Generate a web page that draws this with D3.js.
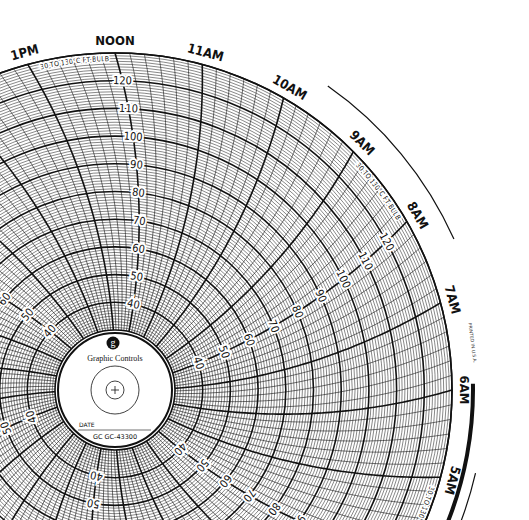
<!DOCTYPE html>
<html><head><meta charset="utf-8">
<script src="https://cdn.jsdelivr.net/npm/d3@7"></script>
<style>body{margin:0;background:#fff}svg{display:block}</style>
</head><body>
<svg id="chart" width="529" height="520"></svg>
<script>
// chart values
const tempRange = [30, 130];
const tempLabels = [40, 50, 60, 70, 80, 90, 100, 110, 120];
const hours = d3.range(0, 24);
const hourLabels = ["MIDNIGHT","1AM","2AM","3AM","4AM","5AM","6AM","7AM","8AM","9AM","10AM","11AM",
                    "NOON","1PM","2PM","3PM","4PM","5PM","6PM","7PM","8PM","9PM","10PM","11PM"];
const labelHours = [12, 8, 4, 0, 20, 16];
const subdivisions = 6;

const svg = d3.select("#chart");
const cx = 115, cy = 390, R = 337, hubR = 57, Ra = 600;
const rScale = d3.scaleLinear().domain(tempRange).range([60, R]);
const angle = h => (12 - h) * 15 * Math.PI / 180; // clockwise from top
const bend = r => Math.acos(r / (2 * Ra)) - Math.acos(R / (2 * Ra));
const pt = (r, a) => [cx + r * Math.sin(a), cy - r * Math.cos(a)];
const deg = a => a * 180 / Math.PI;

const g = svg.append("g");

// temperature circles
d3.range(tempRange[0], tempRange[1] + 1).forEach(t => {
  g.append("circle").attr("cx", cx).attr("cy", cy).attr("r", rScale(t))
    .attr("fill", "none").attr("stroke", "#111")
    .attr("stroke-width", t % 10 === 0 ? 1.6 : 0.5);
});

// time arcs
const line = d3.line();
d3.range(0, 24 * subdivisions).forEach(i => {
  const h = i / subdivisions;
  const pts = d3.range(rScale(tempRange[0]), R + 0.5, 4).concat([R])
    .map(r => pt(r, angle(h) + bend(r)));
  g.append("path").attr("d", line(pts)).attr("fill", "none").attr("stroke", "#111")
    .attr("stroke-width", i % subdivisions === 0 ? 1.6 : 0.6);
});

// temperature numbers along some hour lines
labelHours.forEach(h => {
  tempLabels.forEach(t => {
    const r = rScale(t), a = angle(h) + bend(r);
    const [x, y] = pt(r, a);
    g.append("text").attr("transform", `translate(${x},${y}) rotate(${deg(a)})`)
      .attr("text-anchor", "middle").attr("dominant-baseline", "central")
      .attr("font-family", "DejaVu Sans Condensed, sans-serif").attr("font-size", 11)
      .attr("stroke", "#fff").attr("stroke-width", 4).attr("paint-order", "stroke")
      .attr("fill", "#111").text(t);
  });
  // range title along outer edge
  const a0 = angle(h) - 15 * Math.PI / 180, a1 = angle(h) - 0.5 * Math.PI / 180;
  const rt = R - 8;
  const [x0, y0] = pt(rt, a0), [x1, y1] = pt(rt, a1);
  svg.append("path").attr("id", "tp" + h).attr("fill", "none")
    .attr("d", `M${x0},${y0} A${rt},${rt} 0 0 1 ${x1},${y1}`);
  g.append("text").attr("font-family", "DejaVu Sans Condensed, sans-serif").attr("font-size", 7)
    .attr("fill", "#111").attr("stroke", "#fff").attr("stroke-width", 3).attr("paint-order", "stroke")
    .append("textPath").attr("href", "#tp" + h).attr("startOffset", "55%").attr("text-anchor", "middle")
    .text("30 TO 130°C PT BULB");
});

// outer edge
svg.append("circle").attr("cx", cx).attr("cy", cy).attr("r", R)
  .attr("fill", "none").attr("stroke", "#111").attr("stroke-width", 1.6);

// hour labels
hours.forEach(h => {
  const a = angle(h);
  const [x, y] = pt(R + 8, a);
  svg.append("text").attr("transform", `translate(${x},${y}) rotate(${deg(a)})`)
    .attr("text-anchor", "middle").attr("font-family", "DejaVu Sans Condensed, sans-serif")
    .attr("font-size", 13).attr("font-weight", "bold").attr("fill", "#111").text(hourLabels[h]);
});

// outer arcs
const arc = d3.arc();
const outerArcs = [
  {r: 371, a0: 35, a1: 66, w: 1.2},
  {r: 358, a0: 89, a1: 135, w: 4},
  {r: 370, a0: 103, a1: 140, w: 1.2}
];
outerArcs.forEach(d => {
  svg.append("path").attr("transform", `translate(${cx},${cy})`)
    .attr("d", arc({innerRadius: d.r - d.w / 2, outerRadius: d.r + d.w / 2,
      startAngle: d.a0 * Math.PI / 180, endAngle: d.a1 * Math.PI / 180}))
    .attr("fill", "#111");
});
{
  const [x, y] = pt(R + 22, angle(6.5));
  svg.append("text").attr("transform", `translate(${x},${y}) rotate(${deg(angle(6.5))})`)
    .attr("text-anchor", "middle").attr("font-family", "DejaVu Sans, sans-serif")
    .attr("font-size", 4.5).attr("fill", "#333").text("PRINTED IN U.S.A.");
}

// hub
svg.append("circle").attr("cx", cx).attr("cy", cy).attr("r", hubR)
  .attr("fill", "#fff").attr("stroke", "#111").attr("stroke-width", 2);
svg.append("circle").attr("cx", cx).attr("cy", cy).attr("r", 24)
  .attr("fill", "none").attr("stroke", "#111").attr("stroke-width", 0.8);
svg.append("circle").attr("cx", cx).attr("cy", cy).attr("r", 9)
  .attr("fill", "none").attr("stroke", "#111").attr("stroke-width", 0.8);
svg.append("path").attr("d", `M${cx - 4},${cy}H${cx + 4}M${cx},${cy - 4}V${cy + 4}`)
  .attr("stroke", "#111").attr("stroke-width", 0.8);
svg.append("circle").attr("cx", cx - 2).attr("cy", 343).attr("r", 6.5).attr("fill", "#111");
svg.append("text").attr("x", cx - 2).attr("y", 346).attr("text-anchor", "middle")
  .attr("font-family", "Liberation Serif, serif").attr("font-size", 10).attr("fill", "#fff").text("g");
svg.append("text").attr("x", cx).attr("y", 361).attr("text-anchor", "middle")
  .attr("font-family", "Liberation Serif, serif").attr("font-size", 8).attr("fill", "#111").text("Graphic Controls");
svg.append("text").attr("x", 79).attr("y", 427)
  .attr("font-family", "DejaVu Sans, sans-serif").attr("font-size", 6).attr("fill", "#111").text("DATE");
svg.append("line").attr("x1", 78).attr("x2", 151).attr("y1", 430).attr("y2", 430)
  .attr("stroke", "#111").attr("stroke-width", 0.6);
svg.append("text").attr("x", cx).attr("y", 439).attr("text-anchor", "middle")
  .attr("font-family", "DejaVu Sans, sans-serif").attr("font-size", 6.5).attr("fill", "#111").text("GC  GC-43300");
</script>
</body></html>
